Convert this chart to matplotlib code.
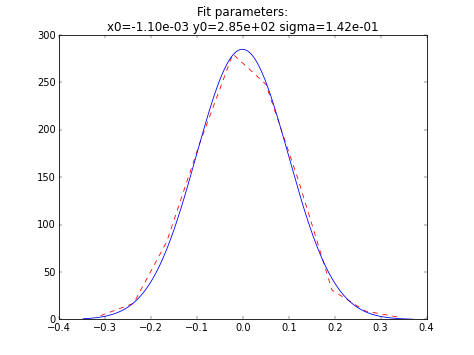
import numpy as np
import matplotlib
matplotlib.use("Agg")
import matplotlib.pyplot as plt

# histogram points (red dashed)
hist_x = [-0.310, -0.238, -0.166, -0.094, -0.022, 0.050, 0.122, 0.194, 0.266, 0.338]
hist_y = [4, 17, 82, 186, 280, 248, 145, 31, 9, 2.5]

# fit parameters shown in the title
x0 = -1.10e-03
y0 = 2.85e+02
sigma = 1.42e-01
fit_range = [-0.348, 0.370]

plt.style.use('classic')
fig = plt.figure(figsize=(8, 6), dpi=59.25)

xs = np.linspace(fit_range[0], fit_range[1], 400)
plt.plot(hist_x, hist_y, 'r--')
plt.plot(xs, y0 * np.exp(-((xs - x0) / sigma) ** 2), 'b-')

plt.title("Fit parameters:\nx0=%.2e y0=%.2e sigma=%.2e" % (x0, y0, sigma))
plt.xlim(-0.4, 0.4)
plt.ylim(0, 300)

fig.savefig("out.png", dpi=59.25)
